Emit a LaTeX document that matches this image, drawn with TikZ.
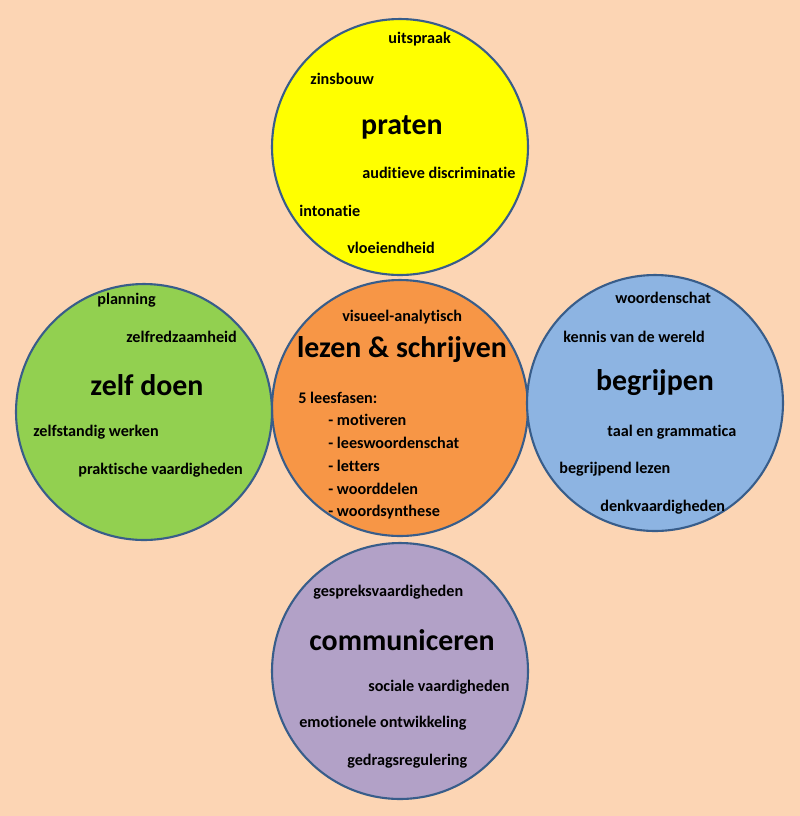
\documentclass[tikz,border=0pt]{standalone}
\usepackage{fontspec}
\setmainfont{Carlito}[Ligatures=NoCommon]
\usepackage{tikz}
\usetikzlibrary{positioning}
\definecolor{PeachBg}{RGB}{252,213,180}
\definecolor{EdgeBlue}{RGB}{56,93,138}
\definecolor{PratenYellow}{RGB}{255,255,0}
\definecolor{LezenOrange}{RGB}{247,150,70}
\definecolor{DoenGreen}{RGB}{146,208,80}
\definecolor{BegripBlue}{RGB}{141,180,226}
\definecolor{CommPurple}{RGB}{178,161,199}

\begin{document}
\begin{tikzpicture}[
    x=0.02cm, y=-0.02cm,
    zone/.style={circle, draw=EdgeBlue, line width=1.2pt, minimum size=5.12cm, inner sep=0pt},
    title/.style={font=\bfseries\fontsize{17}{19}\selectfont, inner sep=0pt},
    item/.style={font=\bfseries\fontsize{9.2}{11}\selectfont, anchor=west, inner sep=0pt}
]
\fill[PeachBg] (0,0) rectangle (800,816);
\useasboundingbox (0,0) rectangle (800,816);

% de vijf cirkels
\node[zone, fill=PratenYellow] (praten) at (400,147) {};
\node[zone, fill=LezenOrange] (lezen) at (400,408) {};
\node[zone, fill=DoenGreen] (doen) at (144,412) {};
\node[zone, fill=BegripBlue] (begrip) at (655,403) {};
\node[zone, fill=CommPurple] (comm) at (400,671) {};

% praten
\node[title] (tPraten) at (402,127) {praten};
\node[item] (p1) at (388,39) {uitspraak};
\node[item] (p2) at (310,79) {zinsbouw};
\node[item] (p3) at (362,173) {auditieve discriminatie};
\node[item] (p4) at (299,211) {intonatie};
\node[item] (p5) at (347,248) {vloeiendheid};

% lezen & schrijven
\node[item] (l0) at (342,317) {visueel-analytisch};
\node[title] (tLezen) at (402,350) {lezen \& schrijven};
\node[item] (l1) at (298,398) {5 leesfasen:};
\node[item] (l2) at (328,420) {- motiveren};
\node[item] (l3) at (328,443) {- leeswoordenschat};
\node[item] (l4) at (328,466) {- letters};
\node[item] (l5) at (328,489) {- woorddelen};
\node[item] (l6) at (328,512) {- woordsynthese};

% zelf doen
\node[title] (tDoen) at (147,385) {zelf doen};
\node[item] (d1) at (97,300) {planning};
\node[item] (d2) at (126,337) {zelfredzaamheid};
\node[item] (d3) at (33,432) {zelfstandig werken};
\node[item] (d4) at (78,470) {praktische vaardigheden};

% begrijpen
\node[title] (tBegrip) at (655,383) {begrijpen};
\node[item] (b1) at (615,298) {woordenschat};
\node[item] (b2) at (563,337) {kennis van de wereld};
\node[item] (b3) at (607,432) {taal en grammatica};
\node[item] (b4) at (559,469) {begrijpend lezen};
\node[item] (b5) at (600,507) {denkvaardigheden};

% communiceren
\node[title] (tComm) at (402,640) {communiceren};
\node[item] (c1) at (313,592) {gespreksvaardigheden};
\node[item] (c2) at (368,687) {sociale vaardigheden};
\node[item] (c3) at (299,723) {emotionele ontwikkeling};
\node[item] (c4) at (347,761) {gedragsregulering};
\end{tikzpicture}
\end{document}
